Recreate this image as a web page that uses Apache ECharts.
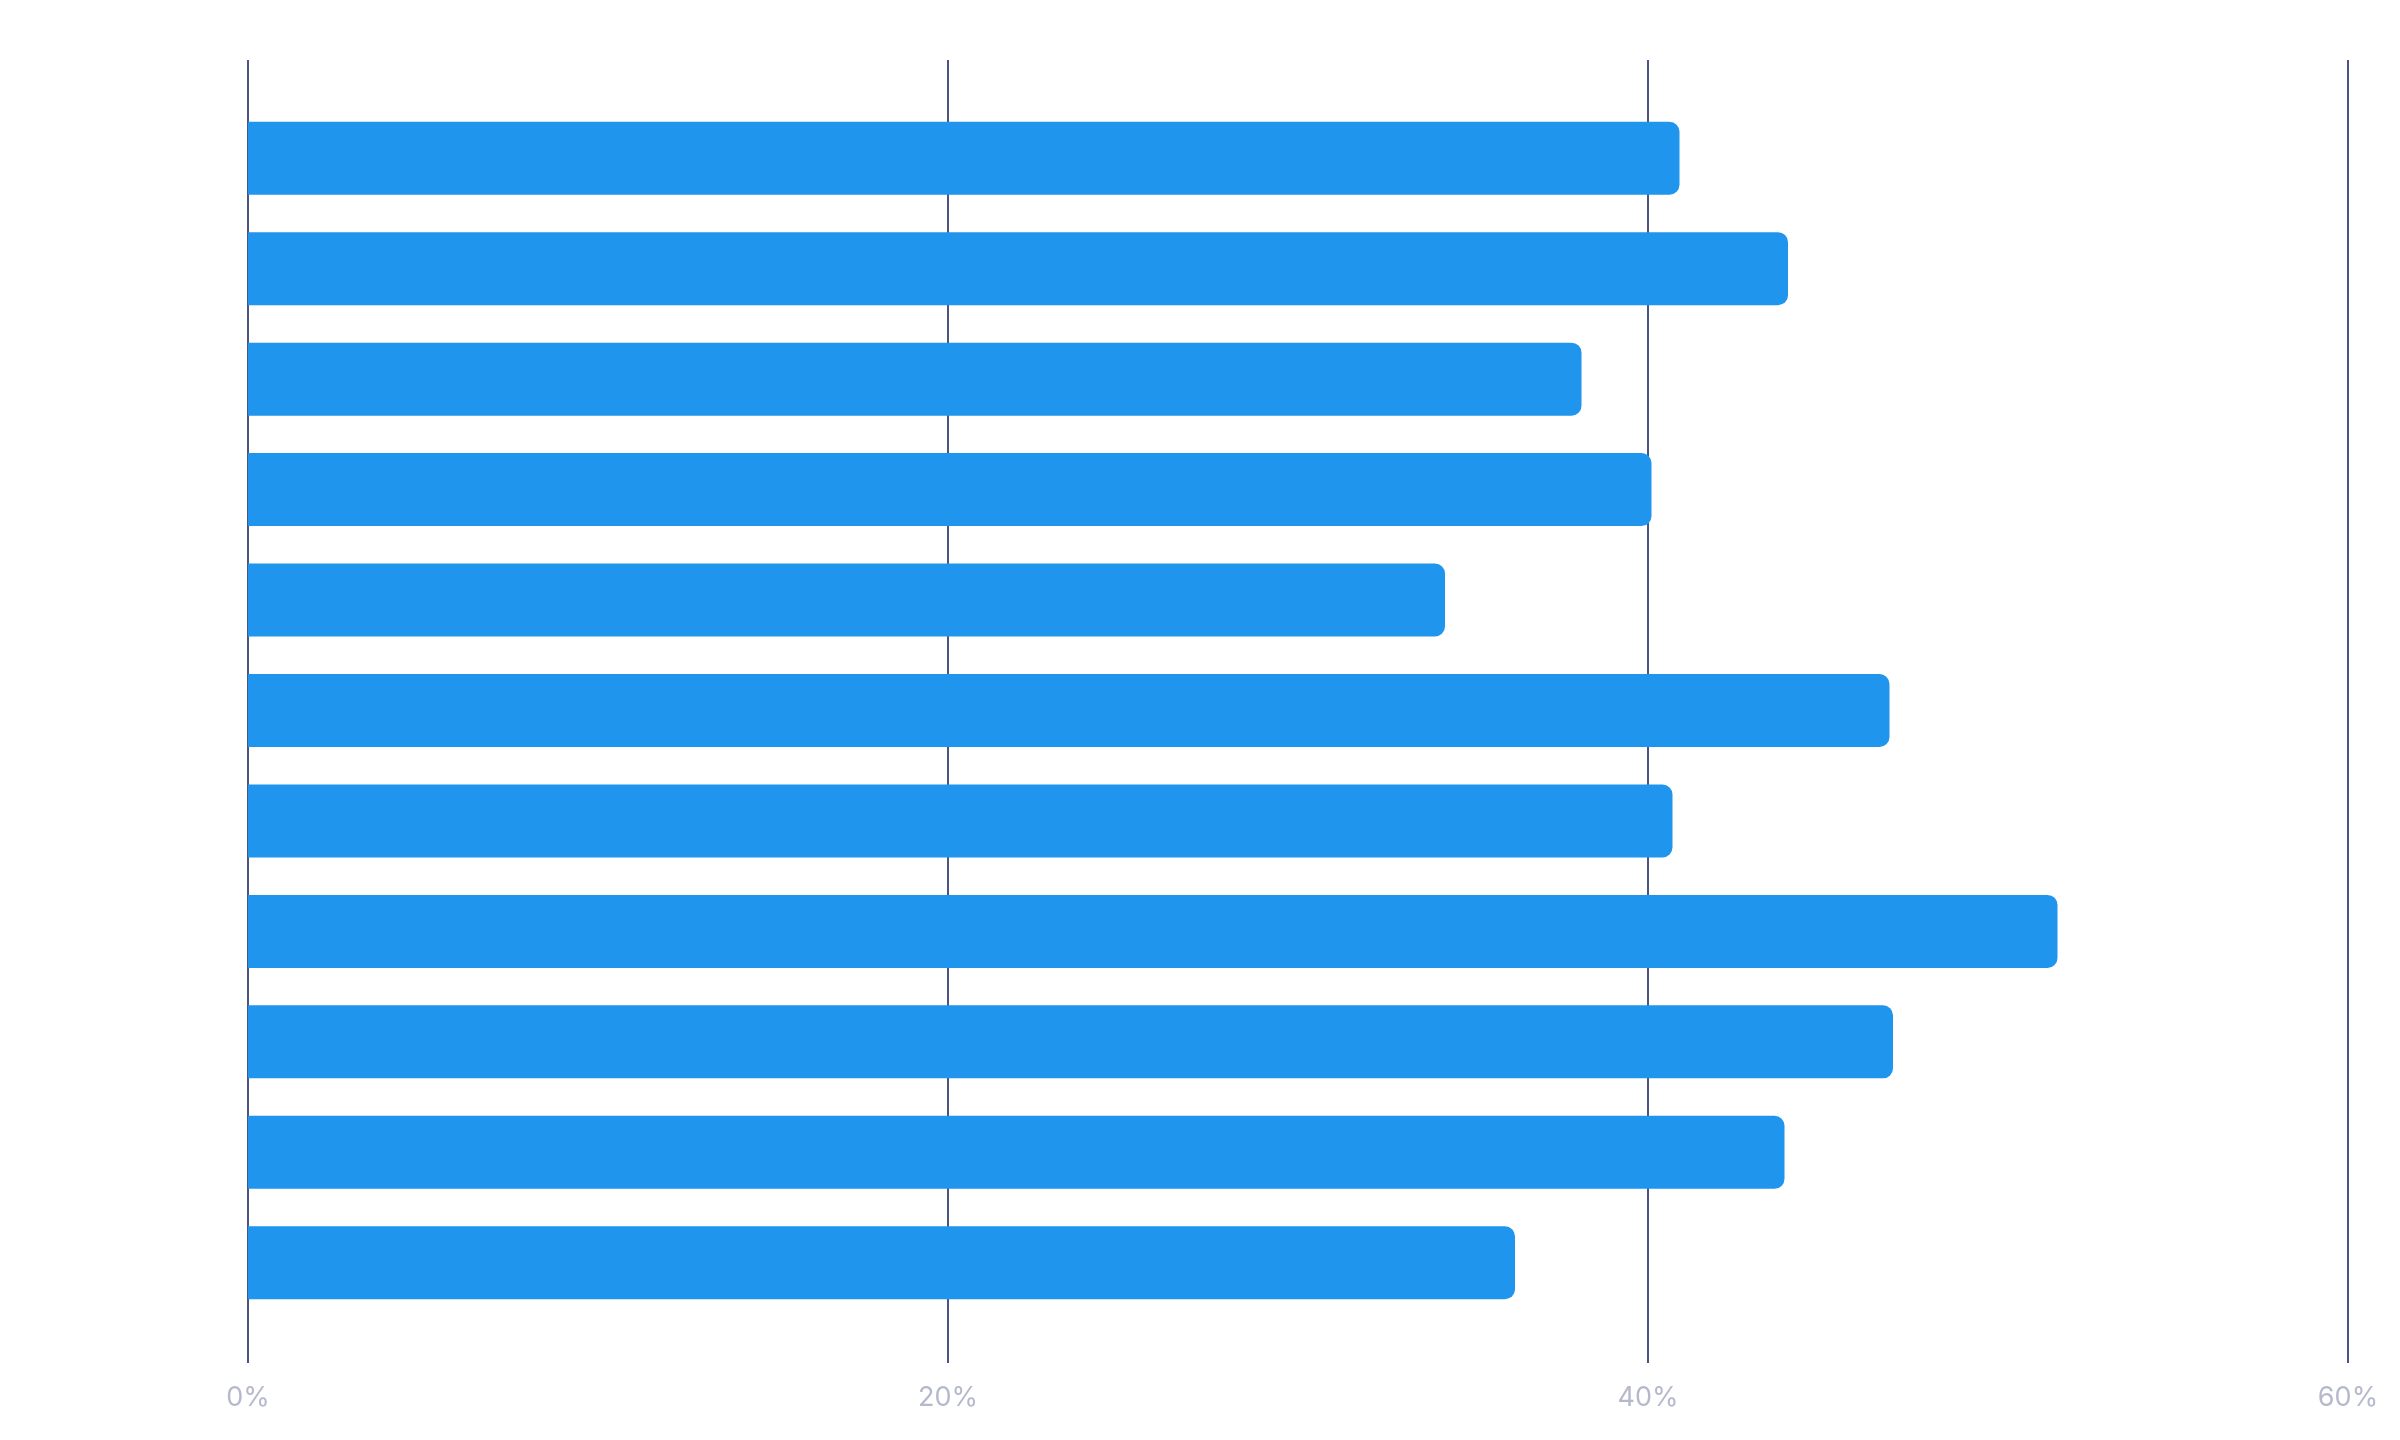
<!DOCTYPE html>
<html>
<head>
<meta charset="utf-8">
<script src="https://cdn.jsdelivr.net/npm/echarts@6/dist/echarts.min.js"></script>
<style>
    html, body { margin: 0; padding: 0; background: #ffffff; }
    #container { width: 2400px; height: 1440px; }
</style>
</head>
<body>
<div id="container"></div>
<script>
// 数据
var categories = ['A', 'B', 'C', 'D', 'E', 'F', 'G', 'H', 'I', 'J', 'K'];
var values = [40.9, 44.0, 38.1, 40.1, 34.2, 46.9, 40.7, 51.7, 47.0, 43.9, 36.2];
var xTicks = [0, 20, 40, 60];

window.onload = function () {
    barChart();
};

function barChart() {
    var myChart = echarts.init(document.getElementById('container'));
    var option = {
        animation: false,
        backgroundColor: '#ffffff',
        grid: [
            // 网格线区域
            { left: 248, right: 52, top: 60, bottom: 77 },
            // 柱子区域
            { left: 248, right: 52, top: 103, bottom: 122 }
        ],
        xAxis: [
            {
                type: 'value',
                gridIndex: 0,
                min: xTicks[0],
                max: xTicks[xTicks.length - 1],
                interval: xTicks[1] - xTicks[0],
                axisLine: { show: false },
                axisTick: { show: false },
                splitLine: {
                    show: true,
                    lineStyle: { color: '#4b5581', width: 2 }
                },
                axisLabel: {
                    formatter: '{value}%',
                    color: '#b6b9cc',
                    fontSize: 27,
                    fontFamily: 'Inter',
                    margin: 21
                }
            },
            {
                type: 'value',
                gridIndex: 1,
                min: xTicks[0],
                max: xTicks[xTicks.length - 1],
                show: false
            }
        ],
        yAxis: [
            {
                type: 'category',
                gridIndex: 0,
                data: categories,
                show: false
            },
            {
                type: 'category',
                gridIndex: 1,
                data: categories,
                inverse: true,
                show: false
            }
        ],
        series: [
            {
                type: 'bar',
                xAxisIndex: 1,
                yAxisIndex: 1,
                data: values,
                barWidth: 73,
                itemStyle: {
                    color: '#1f95ee',
                    borderRadius: [0, 10, 10, 0]
                }
            }
        ]
    };
    myChart.setOption(option);
}
</script>
</body>
</html>
